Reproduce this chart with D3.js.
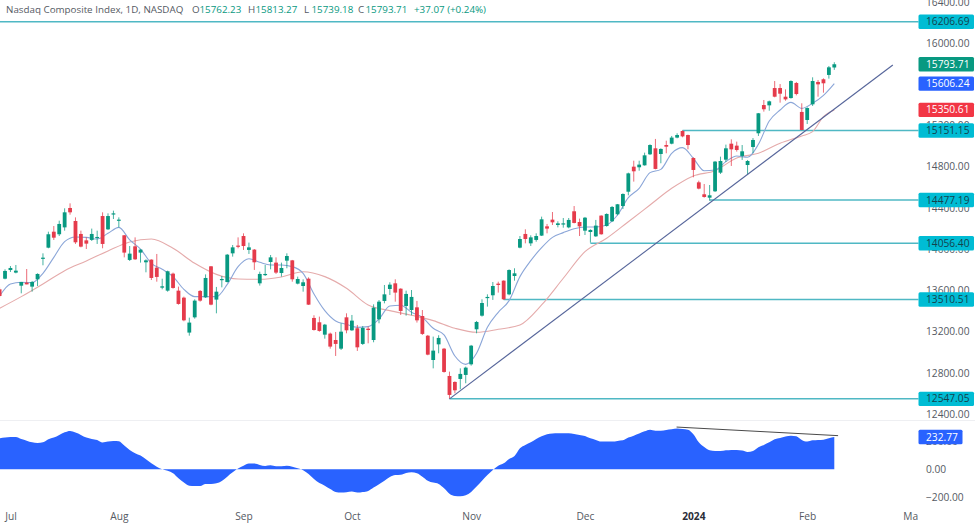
<!DOCTYPE html>
<html>
<head>
<meta charset="utf-8">
<script src="https://d3js.org/d3.v7.min.js"></script>
<style>
  html, body { margin: 0; padding: 0; background: #fff; overflow: hidden; }
  text { font-family: "Open Sans", sans-serif; }
</style>
</head>
<body>
<svg id="chart" width="975" height="524"></svg>
<script>
// Daily candles (bar 0 is at the left edge)
const opens = [
  13610,13713,13797,13772,13645,13675,13636,13707,13911,14014,
  14169,14144,14211,14399,14273,14147,14085,14089,14108,14321,
  14192,14338,14279,14134,13895,14027,13966,13872,13898,13820,
  13626,13597,13762,13597,13529,13190,13338,13594,13532,13833,
  13510,13700,13681,13959,14034,14127,13992,13995,13668,13752,
  13875,13869,13768,13888,13891,13665,13642,13713,13332,13290,
  13170,13180,13118,13034,13338,13212,13232,13080,13228,13118,
  13319,13497,13613,13668,13616,13448,13409,13435,13351,13160,
  12924,13076,13034,12769,12711,12740,12779,12882,13222,13354,
  13526,13552,13665,13694,13561,13739,14014,14147,14056,14089,
  14131,14221,14286,14234,14241,14211,14367,14263,14179,14166,
  14124,14325,14224,14270,14338,14418,14557,14800,14794,14813,
  14920,14978,14923,15010,15023,15082,15146,15107,14884,14648,
  14532,14499,14561,14742,14868,15023,15004,14904,14816,14991,
  15124,15398,15395,15563,15563,15479,15466,15612,15331,15253,
  15405,15622,15648,15690,15762.23
];
const highs = [
  13629,13804,13836,13846,13681,13807,13691,13765,13959,14169,
  14224,14276,14396,14444,14308,14179,14114,14199,14179,14357,
  14347,14373,14308,14137,14030,14114,13998,13901,13901,13953,
  13713,13791,13772,13636,13539,13335,13513,13603,13755,13836,
  13633,13739,13953,14040,14114,14153,14063,14001,13781,13846,
  13943,13920,13869,13959,13895,13733,13707,13726,13358,13345,
  13274,13190,13196,13280,13377,13361,13264,13254,13248,13464,
  13506,13652,13678,13707,13620,13597,13603,13497,13409,13167,
  13151,13164,13041,12811,12717,12843,12860,13070,13303,13513,
  13561,13681,13684,13697,13804,13814,14127,14192,14134,14153,
  14315,14244,14360,14270,14302,14302,14418,14296,14312,14192,
  14283,14328,14347,14418,14438,14541,14742,14858,14858,14936,
  15017,15069,14978,15052,15098,15124,15153,15111,14891,14664,
  14632,14622,14855,14897,15014,15065,15043,15010,14865,15078,
  15321,15447,15441,15631,15602,15550,15638,15622,15415,15376,
  15667,15641,15657,15777,15813.27
];
const lows = [
  13532,13707,13778,13765,13571,13658,13587,13642,13843,14008,
  14089,14127,14179,14334,14050,14017,14001,14079,14050,14008,
  14186,14292,14211,13920,13885,13895,13869,13775,13700,13684,
  13610,13587,13616,13461,13300,13160,13325,13490,13526,13455,
  13377,13629,13675,13927,14008,13992,13953,13798,13646,13739,
  13804,13759,13733,13814,13684,13658,13587,13458,13209,13199,
  13131,13034,12963,13021,13183,13206,13012,13070,13086,13096,
  13280,13474,13555,13490,13361,13354,13358,13287,13167,12970,
  12843,12989,12801,12547,12601,12640,12698,12869,13183,13345,
  13442,13507,13578,13507,13552,13694,14008,14056,14030,14072,
  14127,14153,14234,14211,14208,14202,14250,14127,14137,14063,
  14118,14140,14218,14263,14328,14389,14522,14655,14761,14810,
  14913,14774,14833,14930,15017,15075,15085,14968,14697,14580,
  14499,14470,14554,14729,14845,14807,14946,14865,14719,14930,
  15098,15334,15343,15473,15421,15440,15460,15492,15153,15214,
  15389,15479,15518,15654,15739.18
];
const closes = [
  13545,13788,13817,13791,13681,13658,13681,13759,13917,14144,
  14111,14244,14357,14357,14066,14024,14053,14147,14118,14050,
  14321,14347,14286,13966,13956,13901,13995,13891,13720,13730,
  13639,13785,13623,13468,13309,13287,13500,13500,13720,13461,
  13587,13710,13946,14017,14024,14030,14017,13872,13759,13759,
  13920,13772,13817,13933,13707,13710,13678,13461,13215,13206,
  13267,13054,13080,13199,13212,13306,13047,13235,13215,13432,
  13490,13561,13655,13578,13400,13565,13536,13309,13177,12976,
  13015,13138,12808,12585,12630,12789,12850,13063,13293,13477,
  13536,13642,13652,13513,13797,13765,14098,14098,14114,14127,
  14289,14199,14260,14250,14250,14283,14254,14221,14305,14186,
  14228,14144,14341,14409,14435,14535,14735,14755,14820,14910,
  15010,14778,14972,14994,15082,15107,15094,15010,14768,14587,
  14506,14522,14849,14855,14978,14968,14962,14949,14855,15059,
  15318,15357,15434,15479,15508,15453,15631,15505,15156,15369,
  15631,15599,15609,15764,15793.71
];

// Blue moving average, one reading every second bar
const fastBars = d3.range(0, 155, 2);
const fastValues = [
  13545,13662,13678,13675,13765,13920,14072,14118,14114,14098,
  14153,14211,14089,14001,13862,13804,13733,13610,13539,13539,
  13539,13658,13830,13907,13872,13846,13846,13830,13765,13565,
  13403,13303,13270,13241,13248,13322,13448,13455,13387,13338,
  13232,13167,12963,12882,12989,13241,13387,13500,13733,13888,
  14014,14114,14160,14198,14215,14215,14234,14331,14499,14590,
  14742,14774,14930,14985,14881,14761,14768,14849,14904,14891,
  15017,15243,15350,15424,15366,15415,15492,15606.24
];
// Red moving average, one reading every fourth bar near enough
const slowBars = [
  0,4,8,12,16,20,24,28,32,36,40,44,48,52,56,60,64,68,72,76,
  80,84,88,92,96,100,104,108,112,116,120,124,128,132,136,140,144,148,150,152,154
];
const slowValues = [
  13426,13539,13662,13791,13885,13982,14069,14098,14008,13862,
  13755,13710,13707,13730,13781,13733,13620,13458,13403,13358,
  13306,13232,13193,13222,13264,13458,13717,13975,14105,14266,
  14428,14590,14710,14761,14884,14930,15027,15098,15140,15285,15350.61
];

// Lower pane area, one value per bar
const oscillator = [
  224,229,233,233,219,207,195,190,195,217,
  229,248,267,277,265,248,229,219,212,193,
  200,205,202,171,140,116,99,72,43,19,
  0,-10,-29,-65,-96,-118,-120,-120,-106,-106,
  -101,-84,-53,-22,5,26,41,41,31,24,
  29,22,22,26,19,7,-7,-34,-70,-99,
  -118,-142,-164,-168,-166,-161,-168,-164,-156,-132,
  -108,-82,-55,-41,-39,-26,-22,-29,-53,-82,
  -96,-106,-137,-176,-193,-195,-188,-164,-125,-82,
  -42,-5,26,43,75,96,152,176,195,219,
  238,253,258,260,260,260,255,248,241,224,
  212,200,200,200,205,209,229,243,258,274,
  286,279,279,284,289,294,291,286,253,195,
  161,137,132,132,137,140,140,135,125,132,
  159,176,195,217,226,236,243,238,212,200,
  209,212,214,224,232.77
];

// Horizontal levels drawn on the chart and the bar each one starts at
const levelValues = [16206.69, 15151.15, 14477.19, 14056.40, 13510.51, 12547.05];
const levelStartBars = [-2, 126, 131, 109, 93, 83];

// Trend lines as [bar, value] ends
const priceTrendBars = [83, 164.8];
const priceTrendValues = [12547.05, 15786];
const oscTrendBars = [124.9, 154.7];
const oscTrendValues = [305, 243];

// Axes
const priceTicks = [16400, 16000, 15600, 15200, 14800, 14400, 14000, 13600, 13200, 12800, 12400];
const oscTicks = [200, 0, -200];
const dateTickBars = [2, 22, 45, 65, 87, 108, 128, 149, 168];
const dateTickLabels = ["Jul", "Aug", "Sep", "Oct", "Nov", "Dec", "2024", "Feb", "Ma"];

// Legend
const legendTitle = "Nasdaq Composite Index, 1D, NASDAQ";
const legendKeys = ["O", "H", "L", "C"];
const legendValues = ["15762.23", "15813.27", "15739.18", "15793.71"];
const legendChange = "+37.07 (+0.24%)";

// Colours
const UP_COLOR = "#089981";
const DOWN_COLOR = "#e53b4b";
const FAST_COLOR = "#8ba6d8";
const SLOW_COLOR = "#e5abab";
const LEVEL_COLOR = "#4fb8c4";
const TREND_COLOR = "#56659a";
const OSC_COLOR = "#2962ff";
const TEXT_COLOR = "#555a63";
const TAG_CYAN = "#00bcd4";
const TAG_RED = "#f23645";

// Layout
const WIDTH = 975;
const HEIGHT = 524;
const AXIS_LEFT = 918.5;      // where the price axis begins
const LABEL_X = 926;          // left edge of the axis labels
const TAG_HEIGHT = 14.4;
const BODY_WIDTH = 3.8;
const FONT_SIZE = 10.2;
const LEGEND_FONT_SIZE = 9.8;

const x = d3.scaleLinear().domain([0, 154]).range([-0.4, 834.3]);
const y = d3.scaleLinear().domain([12400, 16000]).range([414, 43]);
const yOsc = d3.scaleLinear().domain([-200, 0]).range([497, 469.3]);

const svg = d3.select("#chart");

function drawLevels() {
  svg.append("g").selectAll("line").data(levelValues).join("line")
    .attr("x1", (d, i) => x(levelStartBars[i]))
    .attr("x2", AXIS_LEFT)
    .attr("y1", d => y(d))
    .attr("y2", d => y(d))
    .attr("stroke", LEVEL_COLOR)
    .attr("stroke-width", 1.5);
}

function drawCandles() {
  const g = svg.append("g");
  const bars = d3.range(opens.length);
  const color = i => closes[i] >= opens[i] ? UP_COLOR : DOWN_COLOR;

  g.selectAll("line").data(bars).join("line")
    .attr("x1", i => x(i))
    .attr("x2", i => x(i))
    .attr("y1", i => y(highs[i]))
    .attr("y2", i => y(lows[i]))
    .attr("stroke", color)
    .attr("stroke-opacity", 0.75)
    .attr("stroke-width", 1);

  // very small bodies still need to show up, so they get a minimum height
  g.selectAll("rect").data(bars).join("rect")
    .attr("x", i => x(i) - BODY_WIDTH / 2)
    .attr("width", BODY_WIDTH)
    .attr("y", i => y(Math.max(opens[i], closes[i])))
    .attr("height", i => Math.max(1.2, Math.abs(y(opens[i]) - y(closes[i]))))
    .attr("fill", color);
}

function drawAverages() {
  const line = d3.line().curve(d3.curveMonotoneX)
    .x(d => x(d[0]))
    .y(d => y(d[1]));

  svg.append("path")
    .attr("d", line(d3.zip(slowBars, slowValues)))
    .attr("fill", "none")
    .attr("stroke", SLOW_COLOR)
    .attr("stroke-width", 1.1);
  svg.append("path")
    .attr("d", line(d3.zip(fastBars, fastValues)))
    .attr("fill", "none")
    .attr("stroke", FAST_COLOR)
    .attr("stroke-width", 1.1);
}

function drawTrend() {
  svg.append("line")
    .attr("x1", x(priceTrendBars[0]))
    .attr("x2", x(priceTrendBars[1]))
    .attr("y1", y(priceTrendValues[0]))
    .attr("y2", y(priceTrendValues[1]))
    .attr("stroke", TREND_COLOR)
    .attr("stroke-width", 1.1);
}

function drawOscillator() {
  svg.append("line")
    .attr("x1", 0)
    .attr("x2", WIDTH)
    .attr("y1", 420.5)
    .attr("y2", 420.5)
    .attr("stroke", "#eeeff2");

  const area = d3.area().curve(d3.curveMonotoneX)
    .x((d, i) => x(i))
    .y0(yOsc(0))
    .y1(d => yOsc(d));

  svg.append("path")
    .attr("d", area(oscillator))
    .attr("fill", OSC_COLOR);

  svg.append("line")
    .attr("x1", x(oscTrendBars[0]))
    .attr("x2", x(oscTrendBars[1]))
    .attr("y1", yOsc(oscTrendValues[0]))
    .attr("y2", yOsc(oscTrendValues[1]))
    .attr("stroke", "#4a4a4a")
    .attr("stroke-width", 1);
}

function styleAxis(g) {
  g.select(".domain").remove();
  g.selectAll(".tick line").remove();
  g.selectAll("text")
    .attr("fill", TEXT_COLOR)
    .style("font-size", FONT_SIZE + "px");
}

function drawAxes() {
  svg.append("g")
    .attr("transform", "translate(" + (LABEL_X - 3) + ",0)")
    .call(d3.axisRight(y).tickValues(priceTicks).tickFormat(d3.format(".2f")).tickSize(0))
    .call(styleAxis);

  svg.append("g")
    .attr("transform", "translate(" + (LABEL_X - 3) + ",0)")
    .call(d3.axisRight(yOsc).tickValues(oscTicks).tickFormat(d => d3.format(".2f")(d).replace("-", "\u2212")).tickSize(0))
    .call(styleAxis);

  svg.append("g")
    .attr("transform", "translate(0,510)")
    .call(d3.axisBottom(x).tickValues(dateTickBars).tickFormat((d, i) => dateTickLabels[i]).tickSize(0))
    .call(styleAxis)
    .selectAll("text")
    .filter(d => d === 128)
    .attr("fill", "#2a2e39")
    .style("font-weight", "bold");
}

function drawTag(yPos, label, fill, textFill, width) {
  svg.append("rect")
    .attr("x", AXIS_LEFT)
    .attr("y", yPos - TAG_HEIGHT / 2)
    .attr("width", width)
    .attr("height", TAG_HEIGHT)
    .attr("rx", 1.5)
    .attr("fill", fill);
  svg.append("text")
    .attr("x", LABEL_X)
    .attr("y", yPos)
    .attr("dy", ".35em")
    .attr("fill", textFill)
    .style("font-size", FONT_SIZE + "px")
    .text(label);
}

function drawTags() {
  const tagWidth = WIDTH - AXIS_LEFT - 1;
  levelValues.forEach(v => drawTag(y(v), v.toFixed(2), TAG_CYAN, "#14424d", tagWidth));
  drawTag(y(closes[closes.length - 1]), "15793.71", UP_COLOR, "#fff", tagWidth);
  drawTag(y(fastValues[fastValues.length - 1]), "15606.24", OSC_COLOR, "#fff", tagWidth);
  drawTag(y(slowValues[slowValues.length - 1]), "15350.61", TAG_RED, "#fff", tagWidth);
  drawTag(yOsc(oscillator[oscillator.length - 1]), "232.77", OSC_COLOR, "#fff", 44);
}

function drawLegend() {
  const keyX = [192, 248, 304, 358];
  const g = svg.append("g")
    .style("font-size", LEGEND_FONT_SIZE + "px");

  g.append("text")
    .attr("x", 6)
    .attr("y", 12.5)
    .attr("fill", TEXT_COLOR)
    .text(legendTitle);

  legendKeys.forEach((key, i) => {
    g.append("text")
      .attr("x", keyX[i])
      .attr("y", 12.5)
      .attr("fill", TEXT_COLOR)
      .text(key);
    g.append("text")
      .attr("x", keyX[i] + 7.5)
      .attr("y", 12.5)
      .attr("fill", UP_COLOR)
      .text(legendValues[i]);
  });

  g.append("text")
    .attr("x", 414)
    .attr("y", 12.5)
    .attr("fill", UP_COLOR)
    .text(legendChange);
}

drawLevels();
drawAverages();
drawCandles();
drawTrend();
drawOscillator();
drawAxes();
drawTags();
drawLegend();
</script>
</body>
</html>
